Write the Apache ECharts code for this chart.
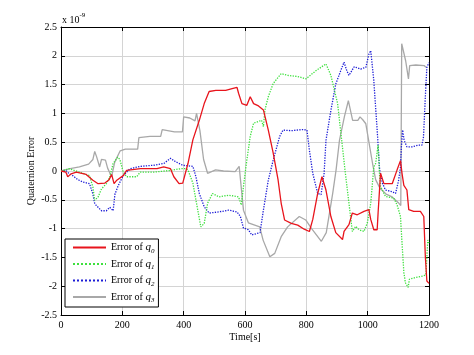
<!DOCTYPE html>
<html>
<head>
<meta charset="utf-8">
<script src="https://cdn.jsdelivr.net/npm/echarts@6/dist/echarts.min.js"></script>
<style>html,body{margin:0;padding:0;background:#fff;}#c{width:474px;height:355px;}</style>
</head>
<body>
<div id="c"></div>
<script>
const xTicks = [0, 200, 400, 600, 800, 1000, 1200];
const yTicks = [-2.5, -2, -1.5, -1, -0.5, 0, 0.5, 1, 1.5, 2, 2.5];
const seriesNames = ['Error of q0', 'Error of q1', 'Error of q2', 'Error of q3'];

const q0 = [[0,0],[16,-0.02],[22,-0.1],[33,-0.05],[50,-0.02],[82,-0.06],[104,-0.16],[121,-0.22],[143,-0.21],[157,-0.15],[165,-0.06],[173,-0.22],[182,-0.16],[203,-0.08],[214,0.01],[259,0.04],[313,0.04],[335,0.07],[357,0.04],[368,-0.1],[385,-0.22],[397,-0.21],[414,0.13],[430,0.54],[451,0.88],[467,1.17],[483,1.38],[505,1.40],[537,1.40],[558,1.43],[574,1.45],[579,1.35],[590,1.17],[606,1.14],[617,1.29],[628,1.17],[644,1.13],[660,1.06],[676,0.71],[692,0.31],[708,-0.16],[718,-0.56],[729,-0.85],[751,-0.91],[772,-0.94],[793,-1.01],[799,-0.99],[810,-1.05],[821,-0.84],[837,-0.39],[851,-0.1],[864,-0.33],[880,-0.79],[896,-1.07],[918,-1.19],[923,-1.05],[939,-0.93],[950,-0.73],[966,-0.76],[988,-0.70],[1004,-0.67],[1010,-0.84],[1020,-1.02],[1031,-1.02],[1034,-0.73],[1042,-0.04],[1053,-0.22],[1080,-0.22],[1096,0.02],[1107,0.18],[1112,-0.04],[1118,-0.25],[1128,-0.33],[1134,-0.67],[1150,-0.70],[1172,-0.70],[1183,-0.79],[1188,-1.48],[1193,-1.91],[1200,-1.95]];

const q1 = [[0,0],[27,0.04],[60,-0.02],[93,-0.08],[104,-0.28],[110,-0.51],[121,-0.45],[132,-0.31],[148,-0.22],[159,-0.10],[170,0.13],[185,0.24],[192,0.2],[203,-0.02],[214,-0.10],[247,-0.10],[258,-0.02],[302,-0.02],[357,0.01],[390,0.04],[407,0.04],[414,0.02],[430,-0.21],[446,-0.68],[456,-0.97],[467,-0.91],[478,-0.56],[494,-0.39],[515,-0.45],[547,-0.42],[579,-0.45],[588,-0.59],[595,-0.27],[606,0.19],[617,0.60],[628,0.83],[644,0.86],[654,0.88],[660,0.77],[665,1.06],[676,1.29],[692,1.52],[718,1.69],[740,1.66],[772,1.64],[799,1.6],[831,1.74],[864,1.86],[880,1.66],[902,1.17],[926,0.02],[939,-0.56],[950,-1.05],[961,-0.96],[972,-1.02],[988,-1.05],[999,-0.90],[1010,-0.56],[1020,0.07],[1026,0.13],[1034,0.45],[1039,-0.1],[1042,-0.27],[1058,-0.44],[1085,-0.47],[1096,-0.59],[1107,-0.79],[1112,-1.25],[1118,-1.76],[1123,-1.94],[1132,-2.02],[1136,-1.88],[1155,-1.85],[1183,-1.82],[1190,-1.8],[1196,-1.2],[1200,-1.25]];

const q2 = [[0,0],[16,0.01],[27,-0.05],[38,-0.08],[55,-0.15],[71,-0.19],[93,-0.22],[104,-0.40],[110,-0.57],[121,-0.63],[132,-0.69],[148,-0.69],[159,-0.63],[170,-0.69],[176,-0.40],[187,-0.25],[203,-0.08],[225,0.04],[258,0.08],[302,0.10],[335,0.13],[357,0.22],[374,0.16],[397,0.10],[430,0.08],[440,-0.10],[451,-0.39],[467,-0.62],[483,-0.73],[515,-0.71],[547,-0.68],[574,-0.71],[585,-0.79],[595,-0.99],[611,-1.02],[622,-1.11],[649,-1.07],[660,-0.68],[676,-0.16],[692,0.19],[713,0.60],[724,0.71],[751,0.70],[788,0.72],[802,0.71],[810,0.36],[821,-0.04],[837,-0.39],[848,-0.41],[858,-0.04],[864,0.53],[880,1.05],[896,1.51],[912,1.74],[923,1.89],[932,1.74],[939,1.66],[956,1.81],[977,1.77],[994,1.8],[1004,2.03],[1010,2.09],[1020,1.57],[1031,0.71],[1039,0.02],[1048,-0.21],[1058,-0.33],[1080,-0.36],[1091,-0.39],[1101,-0.16],[1107,0.07],[1110,0.42],[1114,0.71],[1119,0.53],[1128,0.42],[1145,0.42],[1166,0.45],[1177,0.45],[1182,0.59],[1188,1.28],[1193,1.80],[1200,1.88]];

const q3 = [[0,0],[30,0.04],[60,0.07],[90,0.12],[104,0.2],[110,0.34],[116,0.25],[126,0.07],[132,0.2],[145,0.19],[152,0.05],[165,-0.1],[175,0.15],[193,0.35],[210,0.38],[250,0.38],[254,0.58],[290,0.6],[325,0.6],[330,0.72],[370,0.68],[396,0.68],[400,0.94],[420,0.92],[437,0.87],[442,1.0],[453,0.7],[465,0.2],[478,-0.04],[504,0.02],[530,0.0],[568,-0.01],[581,0.08],[595,-0.68],[611,-0.9],[648,-0.97],[659,-1.2],[681,-1.49],[697,-1.43],[718,-1.14],[739,-0.97],[777,-0.79],[798,-0.85],[816,-0.99],[849,-1.22],[865,-1.07],[886,-0.39],[897,0.02],[908,0.53],[924,0.94],[937,1.22],[951,0.88],[968,0.88],[975,0.94],[984,0.89],[994,0.82],[1016,0.13],[1026,-0.15],[1040,-0.3],[1060,-0.4],[1080,-0.45],[1100,-0.55],[1108,-0.6],[1111,2.21],[1116,2.2],[1124,1.91],[1133,1.6],[1137,1.83],[1157,1.84],[1184,1.83],[1190,1.8]];

const seriesData = [q0, q1, q2, q3];
const colors = ['#e8141c', '#3ee03e', '#1c1cd6', '#a8a8a8'];
const dashes = ['solid', 'dotted', 'dotted', 'solid'];

const FONT = 'Liberation Serif';
const FS = 10;
const chart = echarts.init(document.getElementById('c'), null, {renderer: 'canvas'});

const axisCommon = {
  type: 'value',
  axisLine: {show: true, onZero: false, lineStyle: {color: '#000', width: 1}},
  axisTick: {show: true, inside: true, length: 4, lineStyle: {color: '#000'}},
  splitLine: {show: false}
};

const option = {
  animation: false,
  backgroundColor: '#fff',
  title: {
    text: '{a|x 10}{b|-9}',
    left: 62, top: 12, padding: 0,
    textStyle: {
      fontWeight: 'normal',
      rich: {
        a: {fontFamily: FONT, fontSize: FS, fontWeight: 'normal', color: '#000', lineHeight: 13, verticalAlign: 'bottom'},
        b: {fontFamily: FONT, fontSize: 7, fontWeight: 'normal', color: '#000', lineHeight: 7, verticalAlign: 'top'}
      }
    }
  },
  grid: {left: 61, right: 45, top: 27, bottom: 40, containLabel: false},
  legend: {
    orient: 'vertical',
    left: 65, top: 239,
    width: 94,
    padding: [3, 4, 3, 7],
    itemGap: 4,
    itemWidth: 33,
    itemHeight: 13,
    borderColor: '#000',
    borderWidth: 1,
    backgroundColor: '#fff',
    data: seriesNames,
    itemStyle: {opacity: 0},
    formatter: function (name) {
      const i = seriesNames.indexOf(name);
      return '{t|Error of }{q|q}{s|' + i + '}';
    },
    textStyle: {
      rich: {
        t: {fontFamily: FONT, fontSize: FS, color: '#000', lineHeight: 14},
        q: {fontFamily: FONT, fontSize: FS + 1, fontStyle: 'italic', color: '#000', lineHeight: 14},
        s: {fontFamily: FONT, fontSize: 7, fontStyle: 'italic', color: '#000', lineHeight: 7, verticalAlign: 'bottom'}
      }
    }
  },
  xAxis: [
    Object.assign({}, axisCommon, {
      position: 'bottom', min: 0, max: 1200, interval: 200,
      name: 'Time[s]', nameLocation: 'middle', nameGap: 17,
      nameMoveOverlap: false,
      nameTextStyle: {fontFamily: FONT, fontSize: FS, color: '#000'},
      axisLabel: {fontFamily: FONT, fontSize: FS, color: '#000', margin: 5,
        formatter: v => xTicks.indexOf(v) >= 0 ? String(v) : ''},
      splitLine: {show: true, lineStyle: {color: '#d4d4d4', width: 1}}
    }),
    Object.assign({}, axisCommon, {
      position: 'top', min: 0, max: 1200, interval: 200,
      axisLabel: {show: false}
    })
  ],
  yAxis: [
    Object.assign({}, axisCommon, {
      position: 'left', min: -2.5, max: 2.5, interval: 0.5,
      name: 'Quaternion Error', nameLocation: 'middle', nameGap: 25,
      nameMoveOverlap: false,
      nameTextStyle: {fontFamily: FONT, fontSize: FS, color: '#000'},
      axisLabel: {fontFamily: FONT, fontSize: FS, color: '#000', margin: 4,
        formatter: v => yTicks.indexOf(v) >= 0 ? String(v) : ''},
      splitLine: {show: true, lineStyle: {color: '#d4d4d4', width: 1}}
    }),
    Object.assign({}, axisCommon, {
      position: 'right', min: -2.5, max: 2.5, interval: 0.5,
      axisLabel: {show: false}
    })
  ],
  series: seriesNames.map((n, i) => ({
    name: n,
    type: 'line',
    xAxisIndex: 0,
    yAxisIndex: 0,
    data: seriesData[i],
    symbol: 'none',
    smooth: false,
    z: i === 3 ? 1 : 5 - i,
    lineStyle: {color: colors[i], width: 1.3, type: dashes[i]},
    itemStyle: {color: colors[i]}
  }))
};
chart.setOption(option);
</script>
</body>
</html>
